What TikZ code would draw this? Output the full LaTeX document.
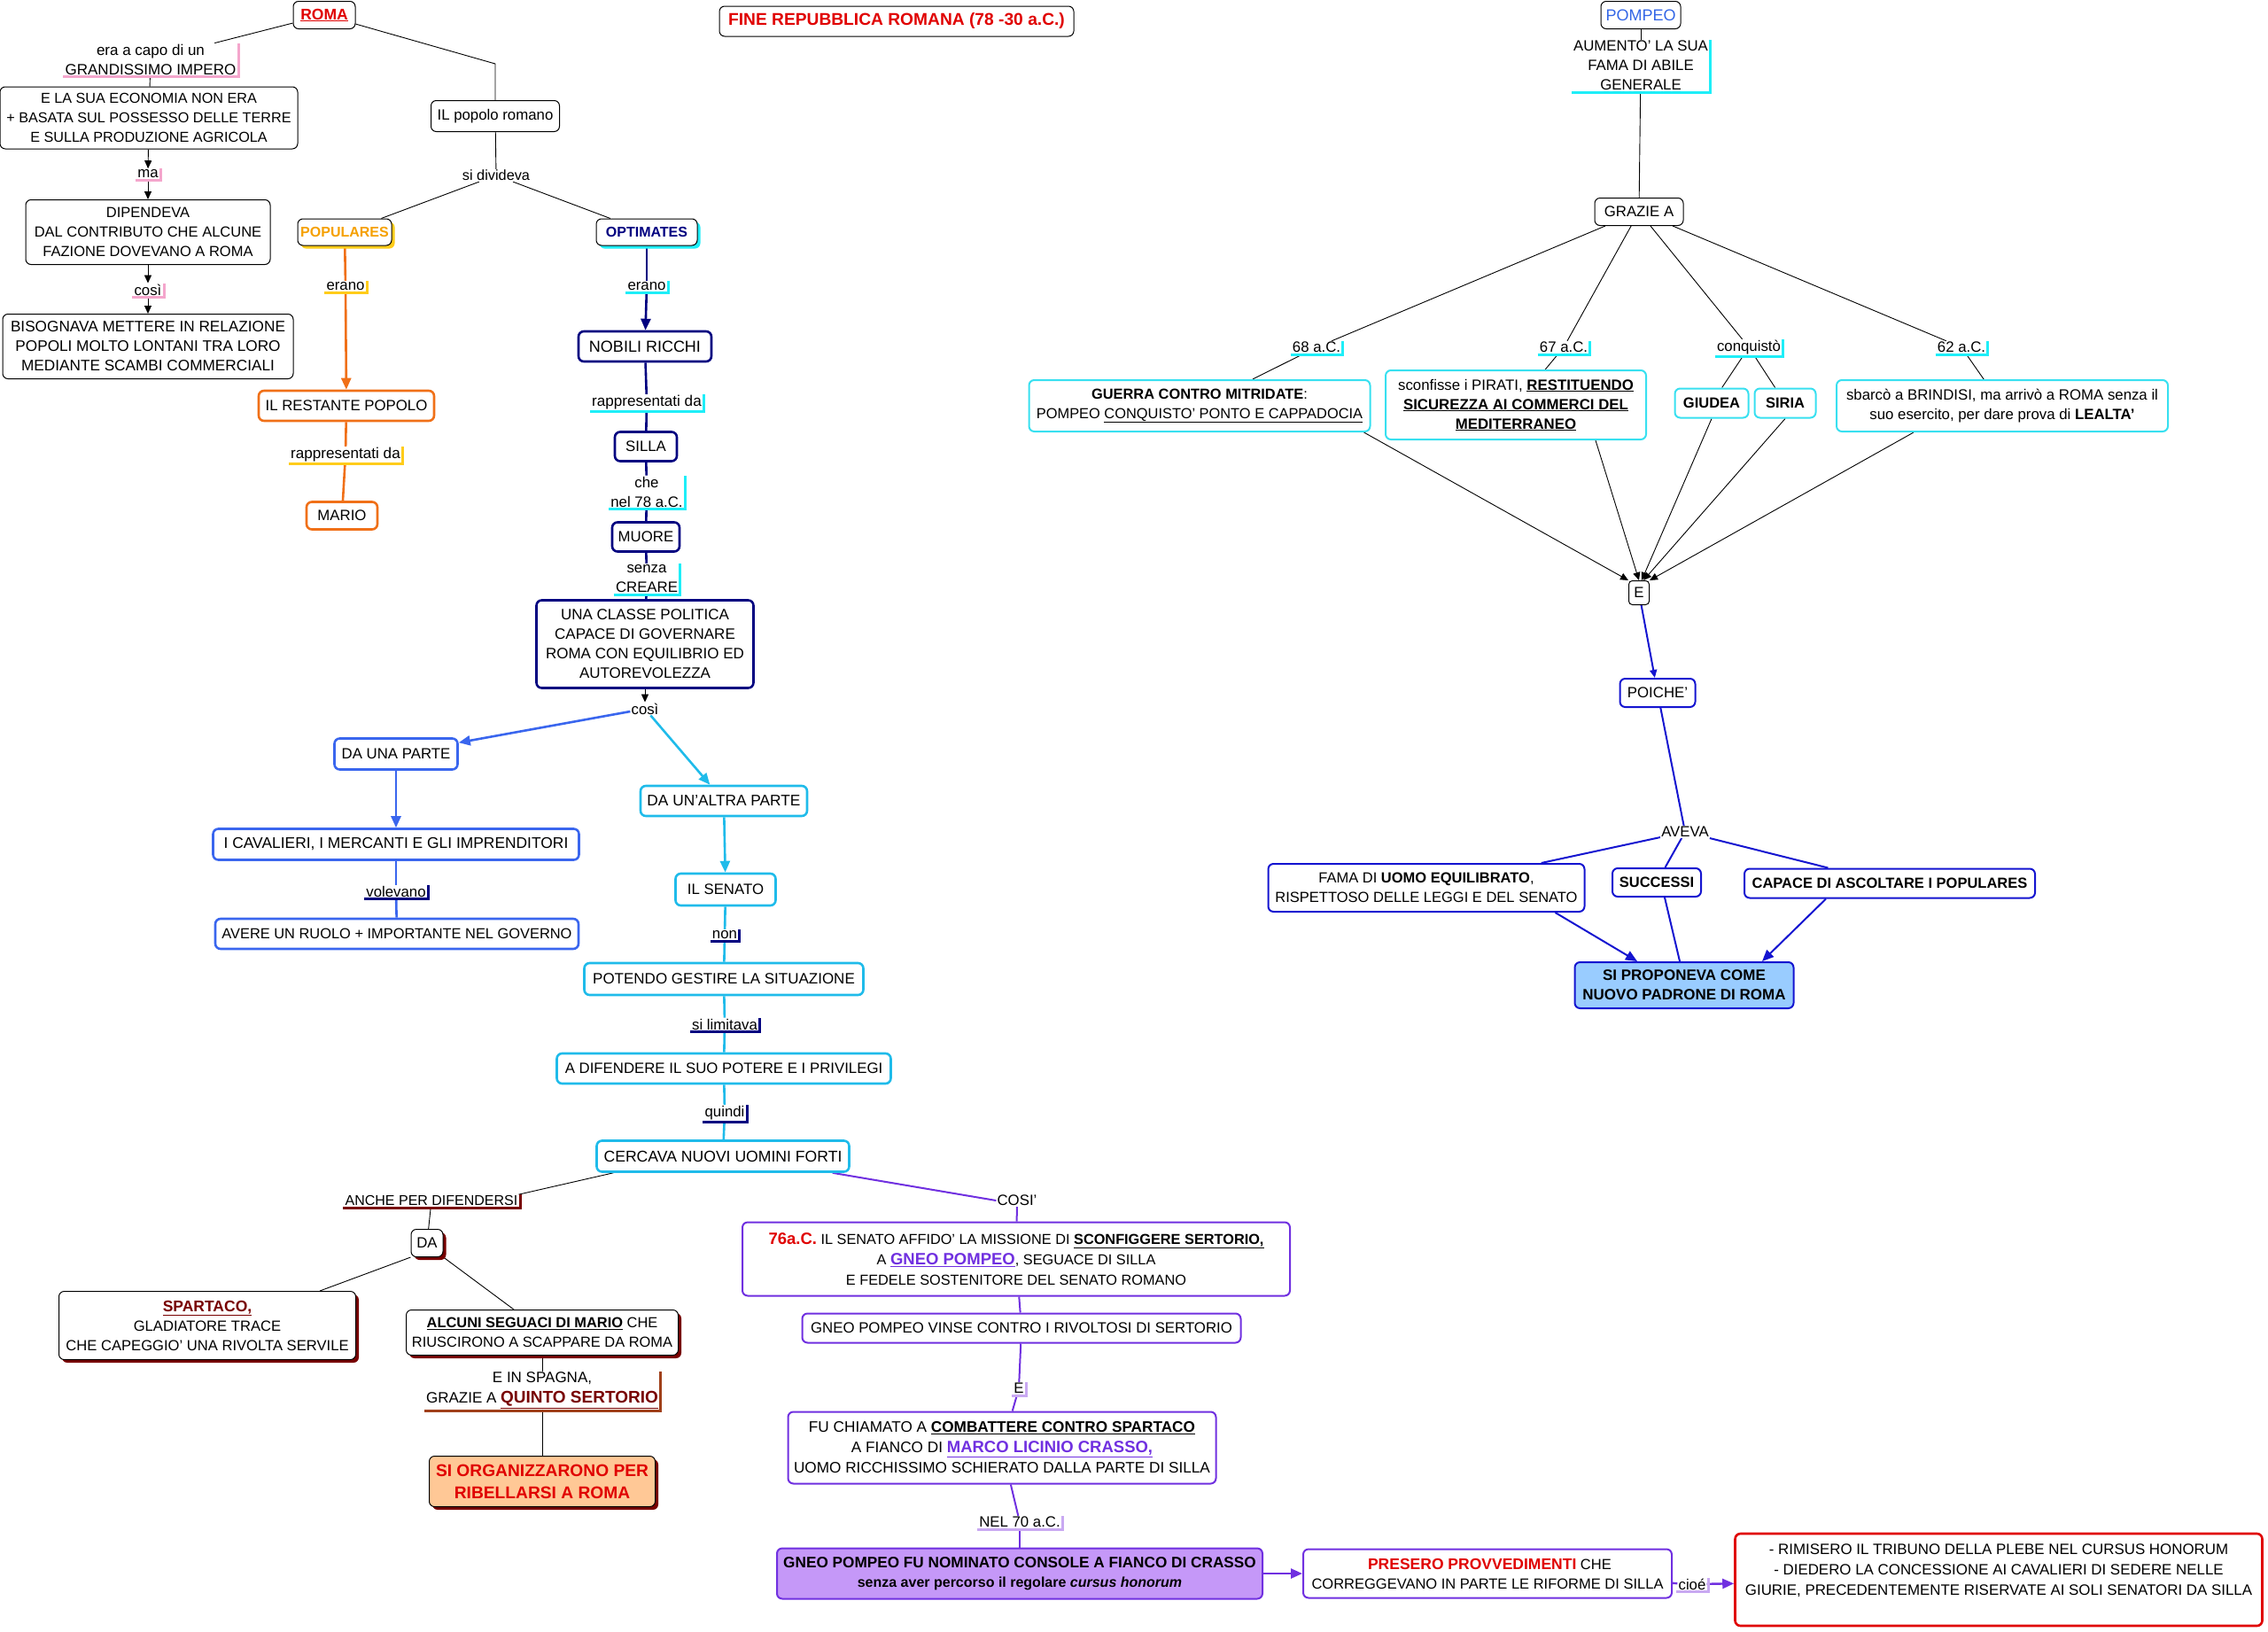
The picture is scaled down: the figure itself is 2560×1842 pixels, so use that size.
\documentclass[tikz,border=0pt]{standalone}
\usepackage{fontspec}
\setmainfont{Liberation Sans}
\usetikzlibrary{arrows.meta,backgrounds,shadows}
\definecolor{cRed}{HTML}{E00000}
\definecolor{cPink}{HTML}{F4A6CC}
\definecolor{cPopTxt}{HTML}{F5A000}
\definecolor{cYel}{HTML}{FFCC1A}
\definecolor{cOrange}{HTML}{F07018}
\definecolor{cNavy}{HTML}{000080}
\definecolor{cCyanBar}{HTML}{1EEEF8}
\definecolor{cBlue}{HTML}{3A66EE}
\definecolor{cCyan}{HTML}{1FBBEA}
\definecolor{cDarkRed}{HTML}{780000}
\definecolor{cBrown}{HTML}{A0401A}
\definecolor{cPeach}{HTML}{FFC896}
\definecolor{cPurple}{HTML}{7030E0}
\definecolor{cLav}{HTML}{C598F8}
\definecolor{cLavBar}{HTML}{C9A9F2}
\definecolor{cRBox}{HTML}{38E0F0}
\definecolor{cRBlue}{HTML}{1414D0}
\definecolor{cLBlue}{HTML}{99CCFF}
\definecolor{cPompeo}{HTML}{3366E6}
\newcommand{\fz}[2]{\fontsize{#1}{#2}\selectfont}
\newcommand{\lkbar}[2]{\draw[line width=3pt,line join=miter,#2] ([xshift=-1pt,yshift=-1.5pt]#1.south west) -- ([xshift=1.5pt,yshift=-1.5pt]#1.south east) -- ([xshift=1.5pt]#1.north east);}
\tikzset{
  tbase/.style={font=\fz{16.8}{22}, align=center, inner sep=3pt},
  box/.style={tbase, draw=black, line width=1pt, rounded corners=6pt, fill=white},
  cbox/.style={box, draw=#1, line width=2.6pt},
  pbox/.style={box, draw=cPurple, line width=2pt},
  rbox/.style={box, draw=cRBox, line width=2pt},
  bbox/.style={box, draw=cRBlue, line width=2pt},
  lbl/.style={tbase, inner sep=1pt, fill=white},
  sh/.style={general shadow={fill=#1, shadow xshift=3.5pt, shadow yshift=-3.5pt}},
  ln/.style={draw=black, line width=0.9pt},
  cline/.style={draw=#1, line width=2.6pt},
  arrowtip/.style={-{Triangle[length=13pt,width=11pt]}},
  smalltip/.style={-{Triangle[length=9pt,width=8pt]}},
}
\begin{document}
\begin{tikzpicture}[x=1pt,y=-1pt]
\useasboundingbox (0,0) rectangle (2560,1842);

% ---------- title
\node[box, minimum width=400pt, minimum height=34pt, font=\fz{19.2}{22}\bfseries, text=cRed] (title) at (1012,24) {FINE REPUBBLICA ROMANA (78 -30 a.C.)};

% ---------- ROMA branch
\node[box, minimum width=70pt, minimum height=31pt, font=\fz{17.5}{22}\bfseries, text=cRed] (roma) at (366,17) {\underline{ROMA}};
\node[lbl, font=\fz{17}{22}] (lera) at (170,67) {era a capo di un\\GRANDISSIMO IMPERO};
\node[box, minimum width=336pt, minimum height=70pt, font=\fz{16.2}{22}] (econ) at (168,133) {E LA SUA ECONOMIA NON ERA\\+ BASATA SUL POSSESSO DELLE TERRE\\E SULLA PRODUZIONE AGRICOLA};
\node[lbl] (lma) at (167,196) {ma};
\node[box, minimum width=276pt, minimum height=73pt, font=\fz{16.5}{22}] (dip) at (167,262) {DIPENDEVA\\DAL CONTRIBUTO CHE ALCUNE\\FAZIONE DOVEVANO A ROMA};
\node[lbl] (lcosi1) at (167,327) {così};
\node[box, minimum width=328pt, minimum height=73pt, font=\fz{17.2}{22}] (bis) at (167,391) {BISOGNAVA METTERE IN RELAZIONE\\POPOLI MOLTO LONTANI TRA LORO\\MEDIANTE SCAMBI COMMERCIALI};

\coordinate (rjoin) at (559,72);
\node[box, minimum width=145pt, minimum height=35pt] (popolo) at (559,131) {IL popolo romano};
\node[lbl, font=\fz{16.3}{22}] (ldiv) at (560,198) {si divideva};
\node[box, sh=cYel, minimum width=106pt, minimum height=30pt, font=\fz{16}{22}\bfseries, text=cPopTxt] (popul) at (389,262) {POPULARES};
\node[box, sh=cCyanBar, minimum width=114pt, minimum height=30pt, font=\fz{16}{22}\bfseries, text=cNavy] (optim) at (730,262) {OPTIMATES};

\node[lbl] (lerano1) at (390,323) {erano};
\node[cbox=cOrange, minimum width=198pt, minimum height=34pt] (restante) at (391,458) {IL RESTANTE POPOLO};
\node[lbl, font=\fz{17.1}{22}] (lrapp1) at (390,513) {rappresentati da};
\node[cbox=cOrange, minimum width=80pt, minimum height=31pt] (mario) at (386,582) {MARIO};

\node[lbl] (lerano2) at (730,323) {erano};
\node[cbox=cNavy, minimum width=150pt, minimum height=34pt, font=\fz{18}{22}] (nobili) at (728,391) {NOBILI RICCHI};
\node[lbl, font=\fz{17.1}{22}] (lrapp2) at (730,454) {rappresentati da};
\node[cbox=cNavy, minimum width=70pt, minimum height=33pt] (silla) at (729,504) {SILLA};
\node[lbl] (lche) at (730,555) {che\\nel 78 a.C.};
\node[cbox=cNavy, minimum width=76pt, minimum height=33pt] (muore) at (729,606) {MUORE};
\node[lbl] (lsenza) at (730,653) {senza\\CREARE};
\node[cbox=cNavy, minimum width=245pt, minimum height=99pt, font=\fz{17}{22}] (classe) at (728,727) {UNA CLASSE POLITICA\\CAPACE DI GOVERNARE\\ROMA CON EQUILIBRIO ED\\AUTOREVOLEZZA};
\node[lbl] (lcosi2) at (728,800) {così};

\node[cbox=cBlue, minimum width=139pt, minimum height=35pt] (unaparte) at (447,851) {DA UNA PARTE};
\node[cbox=cBlue, minimum width=413pt, minimum height=35pt, font=\fz{17.4}{22}] (cavalieri) at (447,953) {I CAVALIERI, I MERCANTI E GLI IMPRENDITORI};
\node[lbl] (lvolevano) at (447,1006) {volevano};
\node[cbox=cBlue, minimum width=410pt, minimum height=34pt, font=\fz{16.4}{22}] (avere) at (448,1054) {AVERE UN RUOLO + IMPORTANTE NEL GOVERNO};

\node[cbox=cCyan, minimum width=188pt, minimum height=34pt, font=\fz{17.3}{22}] (altraparte) at (817,904) {DA UN'ALTRA PARTE};
\node[cbox=cCyan, minimum width=113pt, minimum height=36pt] (senato) at (819,1004) {IL SENATO};
\node[lbl] (lnon) at (818,1055) {non};
\node[cbox=cCyan, minimum width=315pt, minimum height=36pt, font=\fz{17}{22}] (potendo) at (817,1105) {POTENDO GESTIRE LA SITUAZIONE};
\node[lbl] (llimitava) at (818,1156) {si limitava};
\node[cbox=cCyan, minimum width=377pt, minimum height=34pt] (difendere) at (817,1206) {A DIFENDERE IL SUO POTERE E I PRIVILEGI};
\node[lbl] (lquindi) at (818,1256) {quindi};
\node[cbox=cCyan, minimum width=285pt, minimum height=35pt, font=\fz{17.6}{22}] (cercava) at (816,1305) {CERCAVA NUOVI UOMINI FORTI};

% ---------- left bottom
\node[lbl, font=\fz{16}{22}] (lanche) at (487,1355) {ANCHE PER DIFENDERSI};
\node[box, sh=cDarkRed, minimum width=36pt, minimum height=31pt] (da) at (482,1403) {DA};
\node[box, sh=cDarkRed, minimum width=335pt, minimum height=77pt, font=\fz{16.6}{22}] (spartaco) at (234,1496) {{\color{cDarkRed}\bfseries\fz{17.5}{22}\underline{SPARTACO,}}\\GLADIATORE TRACE\\CHE CAPEGGIO' UNA RIVOLTA SERVILE};
\node[box, sh=cDarkRed, minimum width=307pt, minimum height=51pt, font=\fz{16.4}{22}] (alcuni) at (612,1504) {\textbf{\underline{ALCUNI SEGUACI DI MARIO}} CHE\\RIUSCIRONO A SCAPPARE DA ROMA};
\node[lbl, font=\fz{17}{23}] (lspagna) at (612,1569) {E IN SPAGNA,\\GRAZIE A {\color{cDarkRed}\bfseries\fz{19}{23}\underline{QUINTO SERTORIO}}};
\node[box, sh=cDarkRed, fill=cPeach, minimum width=255pt, minimum height=57pt, font=\fz{19.2}{25}\bfseries, text=cRed] (organ) at (612,1672) {SI ORGANIZZARONO PER\\RIBELLARSI A ROMA};

% ---------- purple chain
\node[lbl] (lcosi3) at (1148,1355) {COSI'};
\node[pbox, minimum width=618pt, minimum height=83pt, font=\fz{16.3}{23}] (missione) at (1147,1421) {{\color{cRed}\bfseries\fz{18.5}{23}76a.C.} IL SENATO AFFIDO' LA MISSIONE DI \textbf{\underline{SCONFIGGERE SERTORIO,}}\\A {\color{cPurple}\bfseries\fz{18.5}{23}\underline{GNEO POMPEO}}, SEGUACE DI SILLA\\E FEDELE SOSTENITORE DEL SENATO ROMANO};
\node[pbox, minimum width=495pt, minimum height=33pt] (vinse) at (1153,1499) {GNEO POMPEO VINSE CONTRO I RIVOLTOSI DI SERTORIO};
\node[lbl] (le) at (1150,1567) {E};
\node[pbox, minimum width=483pt, minimum height=81pt, font=\fz{17.2}{23}] (chiamato) at (1131,1634) {FU CHIAMATO A \textbf{\underline{COMBATTERE CONTRO SPARTACO}}\\A FIANCO DI {\color{cPurple}\bfseries\fz{18.5}{23}\underline{MARCO LICINIO CRASSO,}}\\UOMO RICCHISSIMO SCHIERATO DALLA PARTE DI SILLA};
\node[lbl] (lnel) at (1151,1718) {NEL 70 a.C.};
\node[pbox, fill=cLav, minimum width=548pt, minimum height=57pt] (nominato) at (1151,1776) {{\fz{17.2}{23}\bfseries GNEO POMPEO FU NOMINATO CONSOLE A FIANCO DI CRASSO}\\{\fz{16}{22}\bfseries senza aver percorso il regolare \textit{cursus honorum}}};
\node[pbox, minimum width=416pt, minimum height=55pt, font=\fz{16.5}{22}] (presero) at (1679,1776) {{\color{cRed}\bfseries\fz{17.5}{22} PRESERO PROVVEDIMENTI} CHE\\CORREGGEVANO IN PARTE LE RIFORME DI SILLA};
\node[lbl] (lcioe) at (1910,1788) {cioé};
\node[cbox=cRed, minimum width=595pt, minimum height=104pt, font=\fz{16.9}{23}] (rimisero) at (2256,1783) {- RIMISERO IL TRIBUNO DELLA PLEBE NEL CURSUS HONORUM\\- DIEDERO LA CONCESSIONE AI CAVALIERI DI SEDERE NELLE\\GIURIE, PRECEDENTEMENTE RISERVATE AI SOLI SENATORI DA SILLA\\ ~};

% ---------- POMPEO branch
\node[box, minimum width=90pt, minimum height=31pt, font=\fz{18}{22}, text=cPompeo] (pompeo) at (1852,17) {POMPEO};
\node[lbl] (laumento) at (1852,74) {AUMENTO' LA SUA\\FAMA DI ABILE\\GENERALE};
\node[box, minimum width=100pt, minimum height=31pt] (grazie) at (1850,239) {GRAZIE A};
\node[lbl] (l68) at (1486,392) {68 a.C.};
\node[lbl] (l67) at (1765,392) {67 a.C.};
\node[lbl] (lconq) at (1974,392) {conquistò};
\node[lbl] (l62) at (2214,392) {62 a.C.};
\node[rbox, minimum width=385pt, minimum height=58pt, font=\fz{16.4}{22}] (guerra) at (1354,458) {\textbf{GUERRA CONTRO MITRIDATE}:\\POMPEO \underline{CONQUISTO' PONTO E CAPPADOCIA}};
\node[rbox, minimum width=294pt, minimum height=78pt, font=\fz{16.8}{22}] (sconfisse) at (1711,457) {sconfisse i PIRATI, \textbf{\underline{RESTITUENDO}}\\\textbf{\underline{SICUREZZA AI COMMERCI DEL}}\\\textbf{\underline{MEDITERRANEO}}};
\node[rbox, minimum width=83pt, minimum height=33pt, font=\fz{16.5}{22}\bfseries] (giudea) at (1932,455) {GIUDEA};
\node[rbox, minimum width=69pt, minimum height=33pt, font=\fz{16.5}{22}\bfseries] (siria) at (2015,455) {SIRIA};
\node[rbox, minimum width=374pt, minimum height=58pt, font=\fz{16.8}{22}] (sbarco) at (2260,458) {sbarcò a BRINDISI, ma arrivò a ROMA senza il\\suo esercito, per dare prova di \textbf{LEALTA'}};
\node[box, minimum width=23pt, minimum height=27pt, inner sep=2pt, rounded corners=4pt] (e) at (1850,669) {E};
\node[bbox, minimum width=85pt, minimum height=32pt] (poiche) at (1871,782) {POICHE'};
\node[lbl] (laveva) at (1902,939) {AVEVA};
\node[bbox, minimum width=357pt, minimum height=54pt, font=\fz{16.5}{22}] (fama) at (1610,1002) {FAMA DI \textbf{UOMO EQUILIBRATO},\\RISPETTOSO DELLE LEGGI E DEL SENATO};
\node[bbox, minimum width=100pt, minimum height=32pt, font=\fz{16.5}{22}\bfseries] (successi) at (1870,996) {SUCCESSI};
\node[bbox, minimum width=328pt, minimum height=33pt, font=\fz{16.5}{22}\bfseries] (capace) at (2133,997) {CAPACE DI ASCOLTARE I POPULARES};
\node[bbox, fill=cLBlue, minimum width=247pt, minimum height=52pt, font=\fz{17}{22}\bfseries] (proponeva) at (1901,1112) {SI PROPONEVA COME\\NUOVO PADRONE DI ROMA};

% ---------- label bars
\lkbar{lera}{cPink}
\lkbar{lma}{cPink}
\lkbar{lcosi1}{cPink}
\lkbar{lerano1}{cYel}
\lkbar{lrapp1}{cYel}
\lkbar{lerano2}{cCyanBar}
\lkbar{lrapp2}{cCyanBar}
\lkbar{lche}{cCyanBar}
\lkbar{lsenza}{cCyanBar}
\lkbar{lvolevano}{cNavy}
\lkbar{lnon}{cNavy}
\lkbar{llimitava}{cNavy}
\lkbar{lquindi}{cNavy}
\lkbar{lanche}{cDarkRed}
\lkbar{lspagna}{cBrown}
\lkbar{le}{cLavBar}
\lkbar{lnel}{cLavBar}
\lkbar{lcioe}{cLavBar}
\lkbar{laumento}{cCyanBar}
\lkbar{l68}{cCyanBar}
\lkbar{l67}{cCyanBar}
\lkbar{lconq}{cCyanBar}
\lkbar{l62}{cCyanBar}

% ---------- connectors
\begin{scope}[on background layer]
\fill[white] (0,0) rectangle (2560,1842);
\draw[ln] (roma) -- (lera);
\draw[ln] (lera) -- (econ);
\draw[ln,smalltip] (econ) -- (lma);
\draw[ln,smalltip] (lma) -- (dip);
\draw[ln,smalltip] (dip) -- (lcosi1);
\draw[ln,smalltip] (lcosi1) -- (bis);
\draw[ln] (roma) -- (rjoin) -- (popolo);
\draw[ln] (popolo) -- (ldiv);
\draw[ln] (ldiv) -- (popul);
\draw[ln] (ldiv) -- (optim);

\draw[cline=cOrange] (popul) -- (lerano1);
\draw[cline=cOrange,arrowtip] (lerano1) -- (restante);
\draw[cline=cOrange] (restante) -- (lrapp1);
\draw[cline=cOrange] (lrapp1) -- (mario);

\draw[cline=cNavy] (optim) -- (lerano2);
\draw[cline=cNavy,arrowtip] (lerano2) -- (nobili);
\draw[cline=cNavy] (nobili) -- (lrapp2);
\draw[cline=cNavy] (lrapp2) -- (silla);
\draw[cline=cNavy] (silla) -- (lche);
\draw[cline=cNavy] (lche) -- (muore);
\draw[cline=cNavy] (muore) -- (lsenza);
\draw[cline=cNavy] (lsenza) -- (classe);
\draw[ln,smalltip] (classe) -- (lcosi2);

\draw[cline=cBlue,arrowtip] (lcosi2) -- (unaparte);
\draw[cline=cBlue,arrowtip] (unaparte) -- (cavalieri);
\draw[cline=cBlue] (cavalieri) -- (lvolevano);
\draw[cline=cBlue] (lvolevano) -- (avere);

\draw[cline=cCyan,arrowtip] (lcosi2) -- (altraparte);
\draw[cline=cCyan,arrowtip] (altraparte) -- (senato);
\draw[cline=cCyan] (senato) -- (lnon);
\draw[cline=cCyan] (lnon) -- (potendo);
\draw[cline=cCyan] (potendo) -- (llimitava);
\draw[cline=cCyan] (llimitava) -- (difendere);
\draw[cline=cCyan] (difendere) -- (lquindi);
\draw[cline=cCyan] (lquindi) -- (cercava);

\draw[ln] ([xshift=20pt]cercava.south west) -- (lanche.north east);
\draw[ln] (lanche) -- (da);
\draw[ln] (da.south west) -- ([xshift=-41pt]spartaco.north east);
\draw[ln] (da.south east) -- ([xshift=-32pt]alcuni.north);
\draw[ln] (alcuni) -- (lspagna);
\draw[ln] (lspagna) -- (organ);

\draw[draw=cPurple,line width=2pt] ([xshift=-20pt]cercava.south east) -- (lcosi3.west);
\draw[draw=cPurple,line width=2pt] (lcosi3) -- (missione);
\draw[draw=cPurple,line width=2pt] (missione) -- (vinse);
\draw[draw=cPurple,line width=2pt] (vinse) -- (le);
\draw[draw=cPurple,line width=2pt] (le) -- (chiamato);
\draw[draw=cPurple,line width=2pt] (chiamato) -- (lnel);
\draw[draw=cPurple,line width=2pt] (lnel) -- (nominato);
\draw[draw=cPurple,line width=2.4pt,arrowtip] (nominato) -- (presero);
\draw[draw=cPurple,line width=2.4pt] (presero) -- (lcioe);
\draw[draw=cPurple,line width=2.4pt,arrowtip] (lcioe) -- (rimisero);

\draw[ln] (pompeo) -- (laumento);
\draw[ln] (laumento) -- (grazie);
\draw[ln] (grazie) -- (l68);
\draw[ln] (grazie) -- (l67);
\draw[ln] (grazie) -- (lconq);
\draw[ln] (grazie) -- (l62);
\draw[ln] (l68) -- (guerra);
\draw[ln] (l67) -- (sconfisse);
\draw[ln] (lconq) -- (giudea);
\draw[ln] (lconq) -- (siria);
\draw[ln] (l62) -- (sbarco);
\draw[ln,smalltip] ([xshift=-8pt]guerra.south east) -- (e.north west);
\draw[ln,smalltip] ([xshift=-58pt]sconfisse.south east) -- (e.north);
\draw[ln,smalltip] (giudea.south) -- ([xshift=3pt]e.north);
\draw[ln,smalltip] (siria.south) -- ([xshift=5pt]e.north);
\draw[ln,smalltip] ([xshift=-100pt]sbarco.south) -- (e.north east);
\draw[draw=cRBlue,line width=2pt,smalltip] (e) -- (poiche);
\draw[draw=cRBlue,line width=2pt] (poiche) -- (laveva);
\draw[draw=cRBlue,line width=2pt] (laveva) -- (fama);
\draw[draw=cRBlue,line width=2pt] (laveva) -- (successi);
\draw[draw=cRBlue,line width=2pt] (laveva) -- (capace);
\draw[draw=cRBlue,line width=2pt,arrowtip] ([xshift=-34pt]fama.south east) -- ([xshift=-53pt]proponeva.north);
\draw[draw=cRBlue,line width=2pt] ([xshift=9pt]successi.south) -- ([xshift=-5pt]proponeva.north);
\draw[draw=cRBlue,line width=2pt,arrowtip] ([xshift=93pt]capace.south west) -- ([xshift=88pt]proponeva.north);
\end{scope}
\end{tikzpicture}
\end{document}
